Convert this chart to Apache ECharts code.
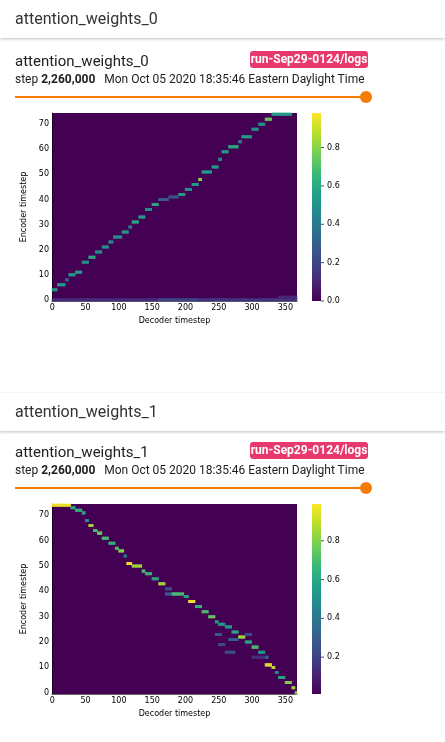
<!DOCTYPE html>
<html><head><meta charset="utf-8">
<script src="https://cdn.jsdelivr.net/npm/echarts@6/dist/echarts.min.js"></script>
<style>
body{margin:0;width:445px;height:742px;background:#fff;font-family:Roboto,"Noto Sans",sans-serif;position:relative;overflow:hidden}
.hdr{position:absolute;left:0;width:445px;height:38px;background:#fff;box-shadow:0 1px 3px rgba(0,0,0,0.25);font-size:16px;color:#333;line-height:38px;padding-left:15px;box-sizing:border-box}
.t{position:absolute;left:15px;font-size:15px;color:#212121}
.pill{position:absolute;left:250px;width:118px;height:17px;background:#e8396d;color:#fff;font-size:12px;font-weight:bold;border-radius:3px;text-align:center;line-height:17px}
.st{position:absolute;left:15px;font-size:12px;color:#212121;white-space:nowrap}
.sl{position:absolute;left:15px;width:351px;height:2px;background:#f57c00}
.kn{position:absolute;left:360px;width:12px;height:12px;border-radius:6px;background:#f57c00}
#c{position:absolute;left:0;top:0;width:445px;height:742px}
</style></head><body>
<div id="c"></div>
<div class="hdr" style="top:0">attention_weights_0</div>
<div class="t" style="top:52px">attention_weights_0</div>
<div class="pill" style="top:51px">run-Sep29-0124/logs</div>
<div class="st" style="top:72px"><span>step </span><b>2,260,000</b>&nbsp;&nbsp;&nbsp;Mon Oct 05 2020 18:35:46 Eastern Daylight Time</div>
<div class="sl" style="top:96px"></div><div class="kn" style="top:91px"></div>
<div class="hdr" style="top:393px">attention_weights_1</div>
<div class="t" style="top:443px">attention_weights_1</div>
<div class="pill" style="top:442px">run-Sep29-0124/logs</div>
<div class="st" style="top:463px"><span>step </span><b>2,260,000</b>&nbsp;&nbsp;&nbsp;Mon Oct 05 2020 18:35:46 Eastern Daylight Time</div>
<div class="sl" style="top:487px"></div><div class="kn" style="top:482px"></div>
<script>
// segments: [decoderStart, decoderEnd, encoderStep, weight]
const segs0 = [[0,8,4,0.5],[8,20,6,0.55],[20,25,8,0.3],[25,35,10,0.55],[35,45,11,0.55],[45,55,15,0.5],[55,65,17,0.6],[65,75,19,0.5],[75,85,21,0.5],[85,92,23,0.45],[92,105,25,0.5],[105,115,27,0.55],[115,120,29,0.4],[120,130,31,0.6],[130,140,33,0.55],[140,150,36,0.5],[150,160,38,0.6],[160,175,40,0.3],[175,190,41,0.25],[190,200,42,0.55],[200,210,44,0.5],[210,220,46,0.55],[220,225,48,0.8],[225,240,51,0.55],[240,250,53,0.55],[250,255,56,0.5],[255,265,59,0.55],[265,280,61,0.6],[280,285,63,0.45],[285,300,65,0.55],[300,310,68,0.5],[310,320,70,0.5],[320,330,72,0.75],[330,360,74,0.55],
 [0,160,0,0.12],[160,220,0,0.2],[220,368,0,0.15],[340,368,1,0.12]];
const segs1 = [[0,28,74,0.97],[28,35,73,0.6],[35,45,72,0.65],[45,50,71,0.6],[50,55,68,0.5],[55,62,66,0.85],[62,68,64,0.7],[68,75,63,0.75],[75,85,61,0.7],[85,95,59,0.65],[95,100,57,0.7],[100,108,56,0.8],[108,112,54,0.45],[112,120,51,0.97],[120,135,50,0.85],[135,140,48,0.7],[140,150,47,0.65],[150,160,45,0.6],[160,170,43,0.85],[170,180,41,0.25],[170,190,39,0.3],[180,198,39,0.7],[198,205,38,0.6],[205,215,36,0.97],[215,225,34,0.65],[225,235,32,0.7],[235,245,30,0.75],[245,250,28,0.55],[250,260,27,0.55],[260,270,26,0.55],[270,280,24,0.6],[280,290,22,0.85],[290,300,20,0.6],[300,310,18,0.7],[310,320,16,0.55],[320,325,14,0.35],[320,330,11,0.95],[330,335,10,0.9],[335,340,8,0.5],[340,350,6,0.6],[350,360,4,0.8],[360,365,2,0.85],[365,368,0,0.8],
 [245,255,23,0.3],[250,260,19,0.25],[260,275,16,0.25],[265,280,21,0.3],[290,300,23,0.25],[300,320,14,0.15]];
const nDec = 368, nEnc = 75;
const decCats = Array.from({length:nDec},(_, i)=>String(i));
const encCats = Array.from({length:nEnc},(_, i)=>String(i));
const cbRange0 = [0, 0.98], cbRange1 = [0.01, 0.99];
const cbTicks0 = [0.0,0.2,0.4,0.6,0.8];
const cbTicks1 = [0.2,0.4,0.6,0.8];
function cells(s){const d=[];s.forEach(([a,b,y,v])=>{for(let x=a;x<b;x++)d.push([x,y,v]);});return d;}
const viridis=['#440154','#482878','#3e4989','#31688e','#26828e','#1f9e89','#35b779','#6ece58','#b5de2b','#fde725'];
const tops=[113,504], hs=[188,190];
const font={fontFamily:'DejaVu Sans',fontSize:8,color:'#000'};
const grids=[],xA=[],yA=[],series=[],vms=[],graphic=[];
[[segs0,cbRange0,cbTicks0],[segs1,cbRange1,cbTicks1]].forEach(([s,rng,ticks],k)=>{
  grids.push({left:52,top:tops[k],width:245,height:hs[k],show:true,backgroundColor:'#440154',borderWidth:0});
  xA.push({type:'category',gridIndex:k,data:decCats,boundaryGap:true,name:'Decoder timestep',nameLocation:'middle',nameGap:16,nameTextStyle:font,
    axisLine:{lineStyle:{color:'#000',width:0.6}},axisTick:{alignWithLabel:true,interval:i=>i%50===0,length:3,lineStyle:{color:'#000'}},axisLabel:Object.assign({interval:i=>i%50===0,margin:3},font),splitLine:{show:false}});
  yA.push({type:'category',gridIndex:k,data:encCats,boundaryGap:true,name:'Encoder timestep',nameLocation:'middle',nameGap:22,nameTextStyle:font,
    axisLine:{lineStyle:{color:'#000',width:0.6}},axisTick:{alignWithLabel:true,interval:i=>i%10===0,length:3,lineStyle:{color:'#000'}},axisLabel:Object.assign({interval:i=>i%10===0,margin:3},font),splitLine:{show:false}});
  series.push({type:'heatmap',xAxisIndex:k,yAxisIndex:k,data:cells(s),itemStyle:{borderWidth:0},emphasis:{disabled:true},progressive:0});
  vms.push({type:'continuous',seriesIndex:k,min:rng[0],max:rng[1],show:false,inRange:{color:viridis}});
  // colorbar
  const top=tops[k],h=hs[k];
  graphic.push({type:'rect',left:312,top:top,shape:{width:9,height:h},
    style:{fill:new echarts.graphic.LinearGradient(0,1,0,0,viridis.map((c,i)=>({offset:i/(viridis.length-1),color:c})))}});
  ticks.forEach(t=>{
    const y=top+h*(1-(t-rng[0])/(rng[1]-rng[0]));
    graphic.push({type:'line',shape:{x1:321,y1:y,x2:324,y2:y},style:{stroke:'#000',lineWidth:0.7}});
    graphic.push({type:'text',x:327,y:y,style:{text:t.toFixed(1),font:'8px "DejaVu Sans"',fill:'#000',textVerticalAlign:'middle',verticalAlign:'middle'}});
  });
});
const ch=echarts.init(document.getElementById('c'));
ch.setOption({animation:false,grid:grids,xAxis:xA,yAxis:yA,series,visualMap:vms,graphic});
</script></body></html>
